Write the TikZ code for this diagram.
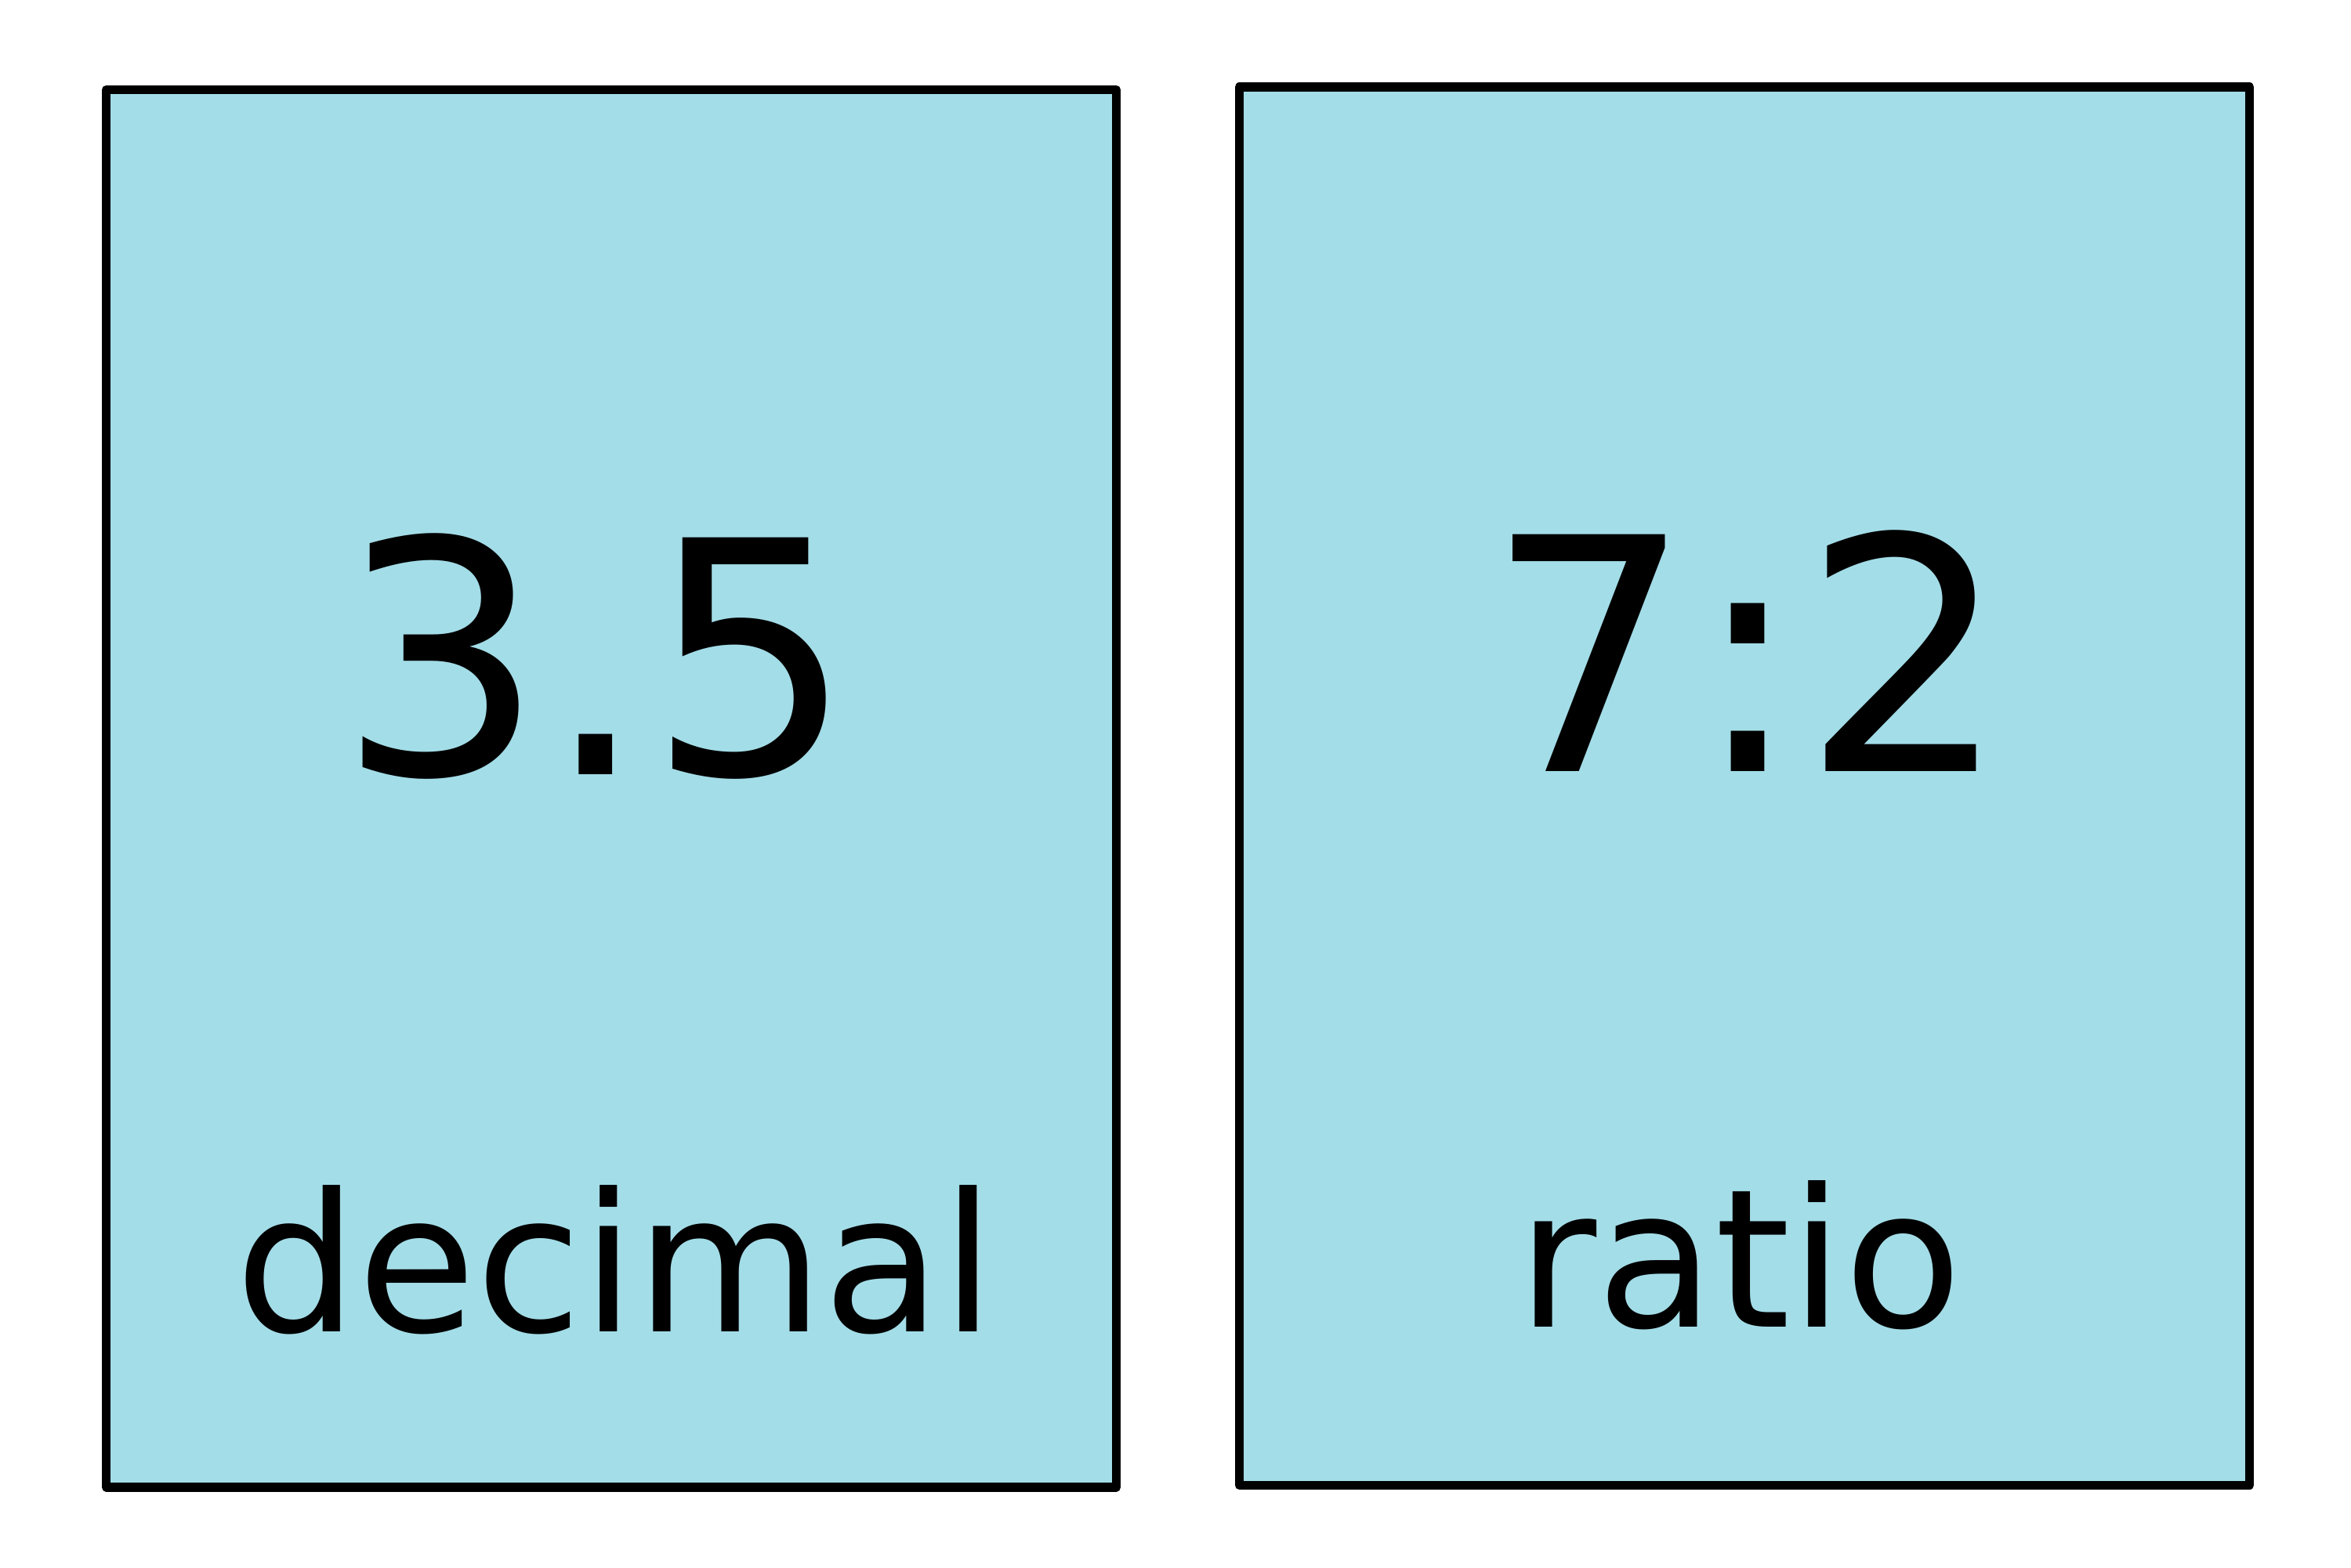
\documentclass[tikz,border=0pt]{standalone}
\usepackage{fontspec}
\setmainfont{DejaVu Sans}
\definecolor{cardfill}{RGB}{163,221,232}
\begin{document}
\begin{tikzpicture}[
  card/.style={draw=black, fill=cardfill, line width=3.2pt, line join=round},
  bignum/.style={inner sep=0pt, anchor=base, font=\fontsize{118}{120}\selectfont},
  cardlabel/.style={inner sep=0pt, anchor=base, font=\fontsize{70}{72}\selectfont}
]
\useasboundingbox (0,0) rectangle (30,20);
\draw[card] (1.355,18.855) rectangle (14.245,1.02);
\draw[card] (15.815,18.89) rectangle (28.705,1.045);
\node[bignum] (n1) at (7.61,10.11) {3.5};
\node[cardlabel] (l1) at (7.85,3.01) {decimal};
\node[bignum] (n2) at (22.30,10.15) {7:2};
\node[cardlabel] (l2) at (22.20,3.07) {ratio};
\end{tikzpicture}
\end{document}
